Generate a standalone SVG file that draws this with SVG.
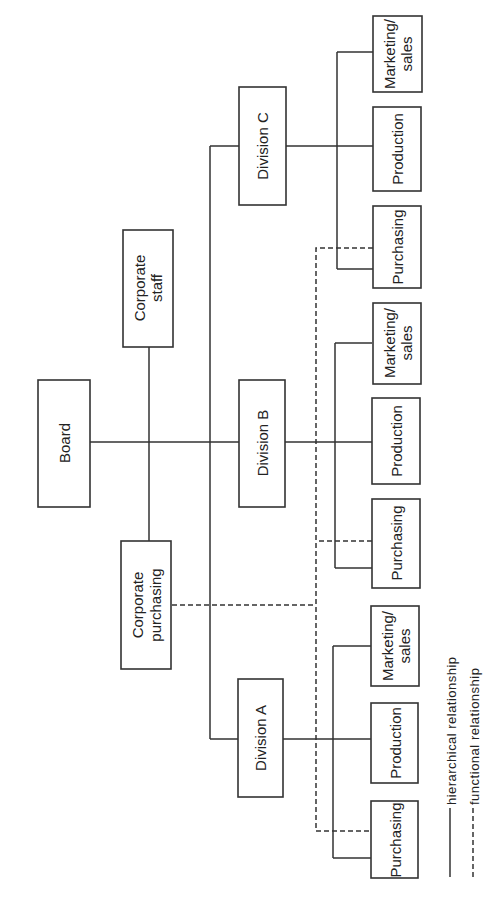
<svg xmlns="http://www.w3.org/2000/svg" width="494" height="917" viewBox="0 0 494 917">
<style>
.box{fill:#fff;stroke:#333;stroke-width:1.6}
.ln{fill:none;stroke:#333;stroke-width:1.5}
.dash{fill:none;stroke:#333;stroke-width:1.5;stroke-dasharray:5 3}
text{font-family:"Liberation Sans",Arial,sans-serif;font-size:15px;fill:#222;text-anchor:middle;dominant-baseline:central}
.lg{font-size:13px;text-anchor:start}
</style>
<rect width="494" height="917" fill="#fff"/>
<g id="connectors">
<path class="ln" d="M90 442H239M149 347V541M210 146V739M210 146H239M210 739H238"/>
<path class="ln" d="M286 146H373M337 52V269M337 52H373M337 269H373"/>
<path class="ln" d="M285 442H372M335 343V568M335 343H372M335 568H372"/>
<path class="ln" d="M283 739H371M333 646V858M333 646H371M333 858H371"/>
<path class="dash" d="M373 248H316V831H371M172 605H316M372 541H316"/>
</g>
<g id="board"><rect class="box" x="38" y="380" width="52" height="127"/><text transform="translate(64,443) rotate(-90)">Board</text></g>
<g id="corporate-staff"><rect class="box" x="123" y="230" width="50" height="117"/><text transform="translate(139,288) rotate(-90)">Corporate</text><text transform="translate(156,288) rotate(-90)">staff</text></g>
<g id="corporate-purchasing"><rect class="box" x="121" y="541" width="50" height="128"/><text transform="translate(137,605) rotate(-90)">Corporate</text><text transform="translate(155,605) rotate(-90)">purchasing</text></g>
<g id="division-c"><rect class="box" x="239" y="87" width="47" height="118"/><text transform="translate(262,146) rotate(-90)">Division C</text></g>
<g id="division-b"><rect class="box" x="239" y="380" width="46" height="127"/><text transform="translate(262,443) rotate(-90)">Division B</text></g>
<g id="division-a"><rect class="box" x="238" y="679" width="45" height="118"/><text transform="translate(260,738) rotate(-90)">Division A</text></g>
<g id="c-marketing"><rect class="box" x="373" y="16" width="49" height="76"/><text transform="translate(389,54) rotate(-90)">Marketing/</text><text transform="translate(406,54) rotate(-90)">sales</text></g>
<g id="c-production"><rect class="box" x="373" y="107" width="48" height="84"/><text transform="translate(397,149) rotate(-90)">Production</text></g>
<g id="c-purchasing"><rect class="box" x="373" y="206" width="48" height="82"/><text transform="translate(397,247) rotate(-90)">Purchasing</text></g>
<g id="b-marketing"><rect class="box" x="373" y="303" width="48" height="81"/><text transform="translate(389,343) rotate(-90)">Marketing/</text><text transform="translate(406,343) rotate(-90)">sales</text></g>
<g id="b-production"><rect class="box" x="372" y="398" width="48" height="86"/><text transform="translate(396,441) rotate(-90)">Production</text></g>
<g id="b-purchasing"><rect class="box" x="372" y="499" width="48" height="89"/><text transform="translate(396,543) rotate(-90)">Purchasing</text></g>
<g id="a-marketing"><rect class="box" x="371" y="606" width="48" height="80"/><text transform="translate(387,646) rotate(-90)">Marketing/</text><text transform="translate(404,646) rotate(-90)">sales</text></g>
<g id="a-production"><rect class="box" x="371" y="703" width="47" height="80"/><text transform="translate(395,743) rotate(-90)">Production</text></g>
<g id="a-purchasing"><rect class="box" x="371" y="801" width="47" height="77"/><text transform="translate(395,840) rotate(-90)">Purchasing</text></g>
<g id="legend">
<path class="ln" d="M450 808V877"/>
<path class="dash" d="M473 808V877"/>
<text class="lg" transform="translate(451,805) rotate(-90)" textLength="148">hierarchical relationship</text>
<text class="lg" transform="translate(474,805) rotate(-90)" textLength="137">functional relationship</text>
</g>
</svg>
